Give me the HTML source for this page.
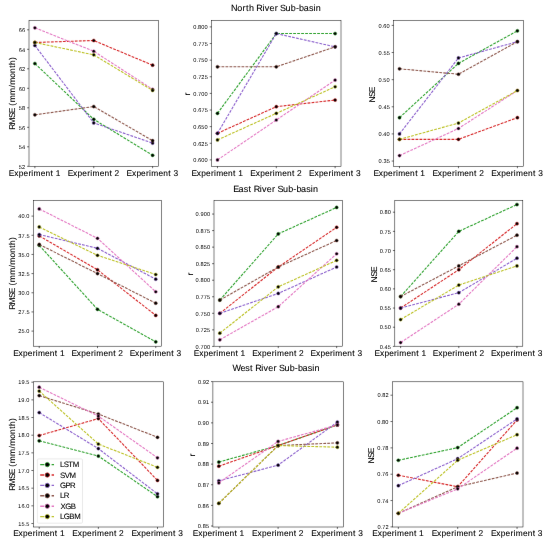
<!DOCTYPE html><html><head><meta charset="utf-8"><style>html,body{margin:0;padding:0;background:#fff;}svg{display:block;will-change:transform;}text{font-family:"Liberation Sans",sans-serif;fill:#000;text-rendering:geometricPrecision;}</style></head><body>
<svg width="550" height="541" viewBox="0 0 550 541">
<rect x="0" y="0" width="550" height="541" fill="#fff"/>
<defs><filter id="bl" x="0" y="0" width="550" height="541" filterUnits="userSpaceOnUse" color-interpolation-filters="sRGB"><feConvolveMatrix order="3" kernelMatrix="0.00193 0.04394 0.00193 0.04394 1.00000 0.04394 0.00193 0.04394 0.00193" divisor="1.18347" edgeMode="duplicate" preserveAlpha="false"/></filter>
<filter id="tb" x="0" y="0" width="550" height="541" filterUnits="userSpaceOnUse" color-interpolation-filters="sRGB"><feConvolveMatrix order="3" kernelMatrix="0.00028 0.01688 0.00028 0.01688 1.00000 0.01688 0.00028 0.01688 0.00028" divisor="1.06866" edgeMode="duplicate" preserveAlpha="false"/></filter>
</defs>
<g filter="url(#bl)">
<polyline points="34.89,63.54 93.75,119.3 152.61,155.28" fill="none" stroke="#2ca02c" stroke-width="1.1" stroke-dasharray="2.8 1.2"/>
<circle cx="34.89" cy="63.54" r="1.6" fill="#000" stroke="#2ca02c" stroke-width="0.45"/>
<circle cx="93.75" cy="119.3" r="1.6" fill="#000" stroke="#2ca02c" stroke-width="0.45"/>
<circle cx="152.61" cy="155.28" r="1.6" fill="#000" stroke="#2ca02c" stroke-width="0.45"/>
<polyline points="34.89,42.47 93.75,40.52 152.61,65.19" fill="none" stroke="#d62728" stroke-width="1.1" stroke-dasharray="2.8 1.2"/>
<circle cx="34.89" cy="42.47" r="1.6" fill="#000" stroke="#d62728" stroke-width="0.45"/>
<circle cx="93.75" cy="40.52" r="1.6" fill="#000" stroke="#d62728" stroke-width="0.45"/>
<circle cx="152.61" cy="65.19" r="1.6" fill="#000" stroke="#d62728" stroke-width="0.45"/>
<polyline points="34.89,45.5 93.75,122.91 152.61,143.09" fill="none" stroke="#8a5fcc" stroke-width="1.1" stroke-dasharray="2.8 1.2"/>
<circle cx="34.89" cy="45.5" r="1.6" fill="#000" stroke="#8a5fcc" stroke-width="0.45"/>
<circle cx="93.75" cy="122.91" r="1.6" fill="#000" stroke="#8a5fcc" stroke-width="0.45"/>
<circle cx="152.61" cy="143.09" r="1.6" fill="#000" stroke="#8a5fcc" stroke-width="0.45"/>
<polyline points="34.89,114.82 93.75,106.53 152.61,140.66" fill="none" stroke="#8c564b" stroke-width="1.1" stroke-dasharray="2.8 1.2"/>
<circle cx="34.89" cy="114.82" r="1.6" fill="#000" stroke="#8c564b" stroke-width="0.45"/>
<circle cx="93.75" cy="106.53" r="1.6" fill="#000" stroke="#8c564b" stroke-width="0.45"/>
<circle cx="152.61" cy="140.66" r="1.6" fill="#000" stroke="#8c564b" stroke-width="0.45"/>
<polyline points="34.89,27.85 93.75,51.25 152.61,89.28" fill="none" stroke="#e377c2" stroke-width="1.1" stroke-dasharray="2.8 1.2"/>
<circle cx="34.89" cy="27.85" r="1.6" fill="#000" stroke="#e377c2" stroke-width="0.45"/>
<circle cx="93.75" cy="51.25" r="1.6" fill="#000" stroke="#e377c2" stroke-width="0.45"/>
<circle cx="152.61" cy="89.28" r="1.6" fill="#000" stroke="#e377c2" stroke-width="0.45"/>
<polyline points="34.89,42.47 93.75,54.86 152.61,90.44" fill="none" stroke="#bcc125" stroke-width="1.1" stroke-dasharray="2.8 1.2"/>
<circle cx="34.89" cy="42.47" r="1.6" fill="#000" stroke="#bcc125" stroke-width="0.45"/>
<circle cx="93.75" cy="54.86" r="1.6" fill="#000" stroke="#bcc125" stroke-width="0.45"/>
<circle cx="152.61" cy="90.44" r="1.6" fill="#000" stroke="#bcc125" stroke-width="0.45"/>
<rect x="29" y="20.5" width="129.5" height="145.8" fill="none" stroke="#000" stroke-width="0.5"/>
<line x1="27.1" y1="166.3" x2="29" y2="166.3" stroke="#000" stroke-width="0.6"/>
<line x1="27.1" y1="146.8" x2="29" y2="146.8" stroke="#000" stroke-width="0.6"/>
<line x1="27.1" y1="127.3" x2="29" y2="127.3" stroke="#000" stroke-width="0.6"/>
<line x1="27.1" y1="107.8" x2="29" y2="107.8" stroke="#000" stroke-width="0.6"/>
<line x1="27.1" y1="88.3" x2="29" y2="88.3" stroke="#000" stroke-width="0.6"/>
<line x1="27.1" y1="68.8" x2="29" y2="68.8" stroke="#000" stroke-width="0.6"/>
<line x1="27.1" y1="49.3" x2="29" y2="49.3" stroke="#000" stroke-width="0.6"/>
<line x1="27.1" y1="29.8" x2="29" y2="29.8" stroke="#000" stroke-width="0.6"/>
<line x1="34.89" y1="166.3" x2="34.89" y2="168.2" stroke="#000" stroke-width="0.6"/>
<line x1="93.75" y1="166.3" x2="93.75" y2="168.2" stroke="#000" stroke-width="0.6"/>
<line x1="152.61" y1="166.3" x2="152.61" y2="168.2" stroke="#000" stroke-width="0.6"/>
<polyline points="217.48,113.35 276.3,33.55 335.12,33.55" fill="none" stroke="#2ca02c" stroke-width="1.1" stroke-dasharray="2.8 1.2"/>
<circle cx="217.48" cy="113.35" r="1.6" fill="#000" stroke="#2ca02c" stroke-width="0.45"/>
<circle cx="276.3" cy="33.55" r="1.6" fill="#000" stroke="#2ca02c" stroke-width="0.45"/>
<circle cx="335.12" cy="33.55" r="1.6" fill="#000" stroke="#2ca02c" stroke-width="0.45"/>
<polyline points="217.48,133.3 276.3,106.7 335.12,100.05" fill="none" stroke="#d62728" stroke-width="1.1" stroke-dasharray="2.8 1.2"/>
<circle cx="217.48" cy="133.3" r="1.6" fill="#000" stroke="#d62728" stroke-width="0.45"/>
<circle cx="276.3" cy="106.7" r="1.6" fill="#000" stroke="#d62728" stroke-width="0.45"/>
<circle cx="335.12" cy="100.05" r="1.6" fill="#000" stroke="#d62728" stroke-width="0.45"/>
<polyline points="217.48,133.3 276.3,33.55 335.12,46.85" fill="none" stroke="#8a5fcc" stroke-width="1.1" stroke-dasharray="2.8 1.2"/>
<circle cx="217.48" cy="133.3" r="1.6" fill="#000" stroke="#8a5fcc" stroke-width="0.45"/>
<circle cx="276.3" cy="33.55" r="1.6" fill="#000" stroke="#8a5fcc" stroke-width="0.45"/>
<circle cx="335.12" cy="46.85" r="1.6" fill="#000" stroke="#8a5fcc" stroke-width="0.45"/>
<polyline points="217.48,66.8 276.3,66.8 335.12,46.85" fill="none" stroke="#8c564b" stroke-width="1.1" stroke-dasharray="2.8 1.2"/>
<circle cx="217.48" cy="66.8" r="1.6" fill="#000" stroke="#8c564b" stroke-width="0.45"/>
<circle cx="276.3" cy="66.8" r="1.6" fill="#000" stroke="#8c564b" stroke-width="0.45"/>
<circle cx="335.12" cy="46.85" r="1.6" fill="#000" stroke="#8c564b" stroke-width="0.45"/>
<polyline points="217.48,159.9 276.3,120 335.12,80.1" fill="none" stroke="#e377c2" stroke-width="1.1" stroke-dasharray="2.8 1.2"/>
<circle cx="217.48" cy="159.9" r="1.6" fill="#000" stroke="#e377c2" stroke-width="0.45"/>
<circle cx="276.3" cy="120" r="1.6" fill="#000" stroke="#e377c2" stroke-width="0.45"/>
<circle cx="335.12" cy="80.1" r="1.6" fill="#000" stroke="#e377c2" stroke-width="0.45"/>
<polyline points="217.48,139.95 276.3,113.35 335.12,86.75" fill="none" stroke="#bcc125" stroke-width="1.1" stroke-dasharray="2.8 1.2"/>
<circle cx="217.48" cy="139.95" r="1.6" fill="#000" stroke="#bcc125" stroke-width="0.45"/>
<circle cx="276.3" cy="113.35" r="1.6" fill="#000" stroke="#bcc125" stroke-width="0.45"/>
<circle cx="335.12" cy="86.75" r="1.6" fill="#000" stroke="#bcc125" stroke-width="0.45"/>
<rect x="211.6" y="20.5" width="129.4" height="145.8" fill="none" stroke="#000" stroke-width="0.5"/>
<line x1="209.7" y1="159.9" x2="211.6" y2="159.9" stroke="#000" stroke-width="0.6"/>
<line x1="209.7" y1="143.27" x2="211.6" y2="143.27" stroke="#000" stroke-width="0.6"/>
<line x1="209.7" y1="126.65" x2="211.6" y2="126.65" stroke="#000" stroke-width="0.6"/>
<line x1="209.7" y1="110.02" x2="211.6" y2="110.02" stroke="#000" stroke-width="0.6"/>
<line x1="209.7" y1="93.4" x2="211.6" y2="93.4" stroke="#000" stroke-width="0.6"/>
<line x1="209.7" y1="76.78" x2="211.6" y2="76.78" stroke="#000" stroke-width="0.6"/>
<line x1="209.7" y1="60.15" x2="211.6" y2="60.15" stroke="#000" stroke-width="0.6"/>
<line x1="209.7" y1="43.53" x2="211.6" y2="43.53" stroke="#000" stroke-width="0.6"/>
<line x1="209.7" y1="26.9" x2="211.6" y2="26.9" stroke="#000" stroke-width="0.6"/>
<line x1="217.48" y1="166.3" x2="217.48" y2="168.2" stroke="#000" stroke-width="0.6"/>
<line x1="276.3" y1="166.3" x2="276.3" y2="168.2" stroke="#000" stroke-width="0.6"/>
<line x1="335.12" y1="166.3" x2="335.12" y2="168.2" stroke="#000" stroke-width="0.6"/>
<polyline points="399.5,117.64 458.45,63.38 517.4,30.83" fill="none" stroke="#2ca02c" stroke-width="1.1" stroke-dasharray="2.8 1.2"/>
<circle cx="399.5" cy="117.64" r="1.6" fill="#000" stroke="#2ca02c" stroke-width="0.45"/>
<circle cx="458.45" cy="63.38" r="1.6" fill="#000" stroke="#2ca02c" stroke-width="0.45"/>
<circle cx="517.4" cy="30.83" r="1.6" fill="#000" stroke="#2ca02c" stroke-width="0.45"/>
<polyline points="399.5,139.35 458.45,139.35 517.4,117.64" fill="none" stroke="#d62728" stroke-width="1.1" stroke-dasharray="2.8 1.2"/>
<circle cx="399.5" cy="139.35" r="1.6" fill="#000" stroke="#d62728" stroke-width="0.45"/>
<circle cx="458.45" cy="139.35" r="1.6" fill="#000" stroke="#d62728" stroke-width="0.45"/>
<circle cx="517.4" cy="117.64" r="1.6" fill="#000" stroke="#d62728" stroke-width="0.45"/>
<polyline points="399.5,133.92 458.45,57.96 517.4,41.68" fill="none" stroke="#8a5fcc" stroke-width="1.1" stroke-dasharray="2.8 1.2"/>
<circle cx="399.5" cy="133.92" r="1.6" fill="#000" stroke="#8a5fcc" stroke-width="0.45"/>
<circle cx="458.45" cy="57.96" r="1.6" fill="#000" stroke="#8a5fcc" stroke-width="0.45"/>
<circle cx="517.4" cy="41.68" r="1.6" fill="#000" stroke="#8a5fcc" stroke-width="0.45"/>
<polyline points="399.5,68.81 458.45,74.23 517.4,41.68" fill="none" stroke="#8c564b" stroke-width="1.1" stroke-dasharray="2.8 1.2"/>
<circle cx="399.5" cy="68.81" r="1.6" fill="#000" stroke="#8c564b" stroke-width="0.45"/>
<circle cx="458.45" cy="74.23" r="1.6" fill="#000" stroke="#8c564b" stroke-width="0.45"/>
<circle cx="517.4" cy="41.68" r="1.6" fill="#000" stroke="#8c564b" stroke-width="0.45"/>
<polyline points="399.5,155.62 458.45,128.49 517.4,90.51" fill="none" stroke="#e377c2" stroke-width="1.1" stroke-dasharray="2.8 1.2"/>
<circle cx="399.5" cy="155.62" r="1.6" fill="#000" stroke="#e377c2" stroke-width="0.45"/>
<circle cx="458.45" cy="128.49" r="1.6" fill="#000" stroke="#e377c2" stroke-width="0.45"/>
<circle cx="517.4" cy="90.51" r="1.6" fill="#000" stroke="#e377c2" stroke-width="0.45"/>
<polyline points="399.5,139.35 458.45,123.07 517.4,90.51" fill="none" stroke="#bcc125" stroke-width="1.1" stroke-dasharray="2.8 1.2"/>
<circle cx="399.5" cy="139.35" r="1.6" fill="#000" stroke="#bcc125" stroke-width="0.45"/>
<circle cx="458.45" cy="123.07" r="1.6" fill="#000" stroke="#bcc125" stroke-width="0.45"/>
<circle cx="517.4" cy="90.51" r="1.6" fill="#000" stroke="#bcc125" stroke-width="0.45"/>
<rect x="393.6" y="20.5" width="129.7" height="145.8" fill="none" stroke="#000" stroke-width="0.5"/>
<line x1="391.7" y1="161.05" x2="393.6" y2="161.05" stroke="#000" stroke-width="0.6"/>
<line x1="391.7" y1="133.92" x2="393.6" y2="133.92" stroke="#000" stroke-width="0.6"/>
<line x1="391.7" y1="106.79" x2="393.6" y2="106.79" stroke="#000" stroke-width="0.6"/>
<line x1="391.7" y1="79.66" x2="393.6" y2="79.66" stroke="#000" stroke-width="0.6"/>
<line x1="391.7" y1="52.53" x2="393.6" y2="52.53" stroke="#000" stroke-width="0.6"/>
<line x1="391.7" y1="25.4" x2="393.6" y2="25.4" stroke="#000" stroke-width="0.6"/>
<line x1="399.5" y1="166.3" x2="399.5" y2="168.2" stroke="#000" stroke-width="0.6"/>
<line x1="458.45" y1="166.3" x2="458.45" y2="168.2" stroke="#000" stroke-width="0.6"/>
<line x1="517.4" y1="166.3" x2="517.4" y2="168.2" stroke="#000" stroke-width="0.6"/>
<polyline points="39.23,245.31 97.5,309.33 155.77,341.83" fill="none" stroke="#2ca02c" stroke-width="1.1" stroke-dasharray="2.8 1.2"/>
<circle cx="39.23" cy="245.31" r="1.6" fill="#000" stroke="#2ca02c" stroke-width="0.45"/>
<circle cx="97.5" cy="309.33" r="1.6" fill="#000" stroke="#2ca02c" stroke-width="0.45"/>
<circle cx="155.77" cy="341.83" r="1.6" fill="#000" stroke="#2ca02c" stroke-width="0.45"/>
<polyline points="39.23,235.88 97.5,269.77 155.77,315.38" fill="none" stroke="#d62728" stroke-width="1.1" stroke-dasharray="2.8 1.2"/>
<circle cx="39.23" cy="235.88" r="1.6" fill="#000" stroke="#d62728" stroke-width="0.45"/>
<circle cx="97.5" cy="269.77" r="1.6" fill="#000" stroke="#d62728" stroke-width="0.45"/>
<circle cx="155.77" cy="315.38" r="1.6" fill="#000" stroke="#d62728" stroke-width="0.45"/>
<polyline points="39.23,234.5 97.5,248.3 155.77,279.2" fill="none" stroke="#8a5fcc" stroke-width="1.1" stroke-dasharray="2.8 1.2"/>
<circle cx="39.23" cy="234.5" r="1.6" fill="#000" stroke="#8a5fcc" stroke-width="0.45"/>
<circle cx="97.5" cy="248.3" r="1.6" fill="#000" stroke="#8a5fcc" stroke-width="0.45"/>
<circle cx="155.77" cy="279.2" r="1.6" fill="#000" stroke="#8a5fcc" stroke-width="0.45"/>
<polyline points="39.23,244.47 97.5,273.6 155.77,303.19" fill="none" stroke="#8c564b" stroke-width="1.1" stroke-dasharray="2.8 1.2"/>
<circle cx="39.23" cy="244.47" r="1.6" fill="#000" stroke="#8c564b" stroke-width="0.45"/>
<circle cx="97.5" cy="273.6" r="1.6" fill="#000" stroke="#8c564b" stroke-width="0.45"/>
<circle cx="155.77" cy="303.19" r="1.6" fill="#000" stroke="#8c564b" stroke-width="0.45"/>
<polyline points="39.23,208.89 97.5,238.33 155.77,291.77" fill="none" stroke="#e377c2" stroke-width="1.1" stroke-dasharray="2.8 1.2"/>
<circle cx="39.23" cy="208.89" r="1.6" fill="#000" stroke="#e377c2" stroke-width="0.45"/>
<circle cx="97.5" cy="238.33" r="1.6" fill="#000" stroke="#e377c2" stroke-width="0.45"/>
<circle cx="155.77" cy="291.77" r="1.6" fill="#000" stroke="#e377c2" stroke-width="0.45"/>
<polyline points="39.23,226.91 97.5,255.35 155.77,274.52" fill="none" stroke="#bcc125" stroke-width="1.1" stroke-dasharray="2.8 1.2"/>
<circle cx="39.23" cy="226.91" r="1.6" fill="#000" stroke="#bcc125" stroke-width="0.45"/>
<circle cx="97.5" cy="255.35" r="1.6" fill="#000" stroke="#bcc125" stroke-width="0.45"/>
<circle cx="155.77" cy="274.52" r="1.6" fill="#000" stroke="#bcc125" stroke-width="0.45"/>
<rect x="33.4" y="200.4" width="128.2" height="145.8" fill="none" stroke="#000" stroke-width="0.5"/>
<line x1="31.5" y1="331.1" x2="33.4" y2="331.1" stroke="#000" stroke-width="0.6"/>
<line x1="31.5" y1="311.93" x2="33.4" y2="311.93" stroke="#000" stroke-width="0.6"/>
<line x1="31.5" y1="292.77" x2="33.4" y2="292.77" stroke="#000" stroke-width="0.6"/>
<line x1="31.5" y1="273.6" x2="33.4" y2="273.6" stroke="#000" stroke-width="0.6"/>
<line x1="31.5" y1="254.43" x2="33.4" y2="254.43" stroke="#000" stroke-width="0.6"/>
<line x1="31.5" y1="235.27" x2="33.4" y2="235.27" stroke="#000" stroke-width="0.6"/>
<line x1="31.5" y1="216.1" x2="33.4" y2="216.1" stroke="#000" stroke-width="0.6"/>
<line x1="39.23" y1="346.2" x2="39.23" y2="348.1" stroke="#000" stroke-width="0.6"/>
<line x1="97.5" y1="346.2" x2="97.5" y2="348.1" stroke="#000" stroke-width="0.6"/>
<line x1="155.77" y1="346.2" x2="155.77" y2="348.1" stroke="#000" stroke-width="0.6"/>
<polyline points="219.84,300.08 278.25,233.9 336.66,207.43" fill="none" stroke="#2ca02c" stroke-width="1.1" stroke-dasharray="2.8 1.2"/>
<circle cx="219.84" cy="300.08" r="1.6" fill="#000" stroke="#2ca02c" stroke-width="0.45"/>
<circle cx="278.25" cy="233.9" r="1.6" fill="#000" stroke="#2ca02c" stroke-width="0.45"/>
<circle cx="336.66" cy="207.43" r="1.6" fill="#000" stroke="#2ca02c" stroke-width="0.45"/>
<polyline points="219.84,313.31 278.25,266.99 336.66,227.29" fill="none" stroke="#d62728" stroke-width="1.1" stroke-dasharray="2.8 1.2"/>
<circle cx="219.84" cy="313.31" r="1.6" fill="#000" stroke="#d62728" stroke-width="0.45"/>
<circle cx="278.25" cy="266.99" r="1.6" fill="#000" stroke="#d62728" stroke-width="0.45"/>
<circle cx="336.66" cy="227.29" r="1.6" fill="#000" stroke="#d62728" stroke-width="0.45"/>
<polyline points="219.84,313.31 278.25,293.46 336.66,266.99" fill="none" stroke="#8a5fcc" stroke-width="1.1" stroke-dasharray="2.8 1.2"/>
<circle cx="219.84" cy="313.31" r="1.6" fill="#000" stroke="#8a5fcc" stroke-width="0.45"/>
<circle cx="278.25" cy="293.46" r="1.6" fill="#000" stroke="#8a5fcc" stroke-width="0.45"/>
<circle cx="336.66" cy="266.99" r="1.6" fill="#000" stroke="#8a5fcc" stroke-width="0.45"/>
<polyline points="219.84,300.08 278.25,266.99 336.66,240.52" fill="none" stroke="#8c564b" stroke-width="1.1" stroke-dasharray="2.8 1.2"/>
<circle cx="219.84" cy="300.08" r="1.6" fill="#000" stroke="#8c564b" stroke-width="0.45"/>
<circle cx="278.25" cy="266.99" r="1.6" fill="#000" stroke="#8c564b" stroke-width="0.45"/>
<circle cx="336.66" cy="240.52" r="1.6" fill="#000" stroke="#8c564b" stroke-width="0.45"/>
<polyline points="219.84,339.78 278.25,306.69 336.66,253.76" fill="none" stroke="#e377c2" stroke-width="1.1" stroke-dasharray="2.8 1.2"/>
<circle cx="219.84" cy="339.78" r="1.6" fill="#000" stroke="#e377c2" stroke-width="0.45"/>
<circle cx="278.25" cy="306.69" r="1.6" fill="#000" stroke="#e377c2" stroke-width="0.45"/>
<circle cx="336.66" cy="253.76" r="1.6" fill="#000" stroke="#e377c2" stroke-width="0.45"/>
<polyline points="219.84,333.16 278.25,286.84 336.66,260.37" fill="none" stroke="#bcc125" stroke-width="1.1" stroke-dasharray="2.8 1.2"/>
<circle cx="219.84" cy="333.16" r="1.6" fill="#000" stroke="#bcc125" stroke-width="0.45"/>
<circle cx="278.25" cy="286.84" r="1.6" fill="#000" stroke="#bcc125" stroke-width="0.45"/>
<circle cx="336.66" cy="260.37" r="1.6" fill="#000" stroke="#bcc125" stroke-width="0.45"/>
<rect x="214" y="200.4" width="128.5" height="145.8" fill="none" stroke="#000" stroke-width="0.5"/>
<line x1="212.1" y1="346.4" x2="214" y2="346.4" stroke="#000" stroke-width="0.6"/>
<line x1="212.1" y1="329.86" x2="214" y2="329.86" stroke="#000" stroke-width="0.6"/>
<line x1="212.1" y1="313.31" x2="214" y2="313.31" stroke="#000" stroke-width="0.6"/>
<line x1="212.1" y1="296.77" x2="214" y2="296.77" stroke="#000" stroke-width="0.6"/>
<line x1="212.1" y1="280.23" x2="214" y2="280.23" stroke="#000" stroke-width="0.6"/>
<line x1="212.1" y1="263.68" x2="214" y2="263.68" stroke="#000" stroke-width="0.6"/>
<line x1="212.1" y1="247.14" x2="214" y2="247.14" stroke="#000" stroke-width="0.6"/>
<line x1="212.1" y1="230.59" x2="214" y2="230.59" stroke="#000" stroke-width="0.6"/>
<line x1="212.1" y1="214.05" x2="214" y2="214.05" stroke="#000" stroke-width="0.6"/>
<line x1="219.84" y1="346.2" x2="219.84" y2="348.1" stroke="#000" stroke-width="0.6"/>
<line x1="278.25" y1="346.2" x2="278.25" y2="348.1" stroke="#000" stroke-width="0.6"/>
<line x1="336.66" y1="346.2" x2="336.66" y2="348.1" stroke="#000" stroke-width="0.6"/>
<polyline points="400.62,296.55 458.8,231.37 516.98,204.53" fill="none" stroke="#2ca02c" stroke-width="1.1" stroke-dasharray="2.8 1.2"/>
<circle cx="400.62" cy="296.55" r="1.6" fill="#000" stroke="#2ca02c" stroke-width="0.45"/>
<circle cx="458.8" cy="231.37" r="1.6" fill="#000" stroke="#2ca02c" stroke-width="0.45"/>
<circle cx="516.98" cy="204.53" r="1.6" fill="#000" stroke="#2ca02c" stroke-width="0.45"/>
<polyline points="400.62,308.06 458.8,269.71 516.98,223.7" fill="none" stroke="#d62728" stroke-width="1.1" stroke-dasharray="2.8 1.2"/>
<circle cx="400.62" cy="308.06" r="1.6" fill="#000" stroke="#d62728" stroke-width="0.45"/>
<circle cx="458.8" cy="269.71" r="1.6" fill="#000" stroke="#d62728" stroke-width="0.45"/>
<circle cx="516.98" cy="223.7" r="1.6" fill="#000" stroke="#d62728" stroke-width="0.45"/>
<polyline points="400.62,308.06 458.8,292.72 516.98,258.21" fill="none" stroke="#8a5fcc" stroke-width="1.1" stroke-dasharray="2.8 1.2"/>
<circle cx="400.62" cy="308.06" r="1.6" fill="#000" stroke="#8a5fcc" stroke-width="0.45"/>
<circle cx="458.8" cy="292.72" r="1.6" fill="#000" stroke="#8a5fcc" stroke-width="0.45"/>
<circle cx="516.98" cy="258.21" r="1.6" fill="#000" stroke="#8a5fcc" stroke-width="0.45"/>
<polyline points="400.62,296.55 458.8,265.88 516.98,235.21" fill="none" stroke="#8c564b" stroke-width="1.1" stroke-dasharray="2.8 1.2"/>
<circle cx="400.62" cy="296.55" r="1.6" fill="#000" stroke="#8c564b" stroke-width="0.45"/>
<circle cx="458.8" cy="265.88" r="1.6" fill="#000" stroke="#8c564b" stroke-width="0.45"/>
<circle cx="516.98" cy="235.21" r="1.6" fill="#000" stroke="#8c564b" stroke-width="0.45"/>
<polyline points="400.62,342.57 458.8,304.22 516.98,246.71" fill="none" stroke="#e377c2" stroke-width="1.1" stroke-dasharray="2.8 1.2"/>
<circle cx="400.62" cy="342.57" r="1.6" fill="#000" stroke="#e377c2" stroke-width="0.45"/>
<circle cx="458.8" cy="304.22" r="1.6" fill="#000" stroke="#e377c2" stroke-width="0.45"/>
<circle cx="516.98" cy="246.71" r="1.6" fill="#000" stroke="#e377c2" stroke-width="0.45"/>
<polyline points="400.62,319.56 458.8,285.05 516.98,265.88" fill="none" stroke="#bcc125" stroke-width="1.1" stroke-dasharray="2.8 1.2"/>
<circle cx="400.62" cy="319.56" r="1.6" fill="#000" stroke="#bcc125" stroke-width="0.45"/>
<circle cx="458.8" cy="285.05" r="1.6" fill="#000" stroke="#bcc125" stroke-width="0.45"/>
<circle cx="516.98" cy="265.88" r="1.6" fill="#000" stroke="#bcc125" stroke-width="0.45"/>
<rect x="394.8" y="200.4" width="128" height="145.8" fill="none" stroke="#000" stroke-width="0.5"/>
<line x1="392.9" y1="346.4" x2="394.8" y2="346.4" stroke="#000" stroke-width="0.6"/>
<line x1="392.9" y1="327.23" x2="394.8" y2="327.23" stroke="#000" stroke-width="0.6"/>
<line x1="392.9" y1="308.06" x2="394.8" y2="308.06" stroke="#000" stroke-width="0.6"/>
<line x1="392.9" y1="288.89" x2="394.8" y2="288.89" stroke="#000" stroke-width="0.6"/>
<line x1="392.9" y1="269.71" x2="394.8" y2="269.71" stroke="#000" stroke-width="0.6"/>
<line x1="392.9" y1="250.54" x2="394.8" y2="250.54" stroke="#000" stroke-width="0.6"/>
<line x1="392.9" y1="231.37" x2="394.8" y2="231.37" stroke="#000" stroke-width="0.6"/>
<line x1="392.9" y1="212.2" x2="394.8" y2="212.2" stroke="#000" stroke-width="0.6"/>
<line x1="400.62" y1="346.2" x2="400.62" y2="348.1" stroke="#000" stroke-width="0.6"/>
<line x1="458.8" y1="346.2" x2="458.8" y2="348.1" stroke="#000" stroke-width="0.6"/>
<line x1="516.98" y1="346.2" x2="516.98" y2="348.1" stroke="#000" stroke-width="0.6"/>
<polyline points="39.21,440.84 98.35,456.03 157.49,496.65" fill="none" stroke="#2ca02c" stroke-width="1.1" stroke-dasharray="2.8 1.2"/>
<circle cx="39.21" cy="440.84" r="1.6" fill="#000" stroke="#2ca02c" stroke-width="0.45"/>
<circle cx="98.35" cy="456.03" r="1.6" fill="#000" stroke="#2ca02c" stroke-width="0.45"/>
<circle cx="157.49" cy="496.65" r="1.6" fill="#000" stroke="#2ca02c" stroke-width="0.45"/>
<polyline points="39.21,435.54 98.35,418.58 157.49,480.4" fill="none" stroke="#d62728" stroke-width="1.1" stroke-dasharray="2.8 1.2"/>
<circle cx="39.21" cy="435.54" r="1.6" fill="#000" stroke="#d62728" stroke-width="0.45"/>
<circle cx="98.35" cy="418.58" r="1.6" fill="#000" stroke="#d62728" stroke-width="0.45"/>
<circle cx="157.49" cy="480.4" r="1.6" fill="#000" stroke="#d62728" stroke-width="0.45"/>
<polyline points="39.21,412.58 98.35,448.61 157.49,493.83" fill="none" stroke="#8a5fcc" stroke-width="1.1" stroke-dasharray="2.8 1.2"/>
<circle cx="39.21" cy="412.58" r="1.6" fill="#000" stroke="#8a5fcc" stroke-width="0.45"/>
<circle cx="98.35" cy="448.61" r="1.6" fill="#000" stroke="#8a5fcc" stroke-width="0.45"/>
<circle cx="157.49" cy="493.83" r="1.6" fill="#000" stroke="#8a5fcc" stroke-width="0.45"/>
<polyline points="39.21,395.62 98.35,413.99 157.49,437.31" fill="none" stroke="#8c564b" stroke-width="1.1" stroke-dasharray="2.8 1.2"/>
<circle cx="39.21" cy="395.62" r="1.6" fill="#000" stroke="#8c564b" stroke-width="0.45"/>
<circle cx="98.35" cy="413.99" r="1.6" fill="#000" stroke="#8c564b" stroke-width="0.45"/>
<circle cx="157.49" cy="437.31" r="1.6" fill="#000" stroke="#8c564b" stroke-width="0.45"/>
<polyline points="39.21,387.15 98.35,416.11 157.49,457.8" fill="none" stroke="#e377c2" stroke-width="1.1" stroke-dasharray="2.8 1.2"/>
<circle cx="39.21" cy="387.15" r="1.6" fill="#000" stroke="#e377c2" stroke-width="0.45"/>
<circle cx="98.35" cy="416.11" r="1.6" fill="#000" stroke="#e377c2" stroke-width="0.45"/>
<circle cx="157.49" cy="457.8" r="1.6" fill="#000" stroke="#e377c2" stroke-width="0.45"/>
<polyline points="39.21,391.03 98.35,444.02 157.49,467.33" fill="none" stroke="#bcc125" stroke-width="1.1" stroke-dasharray="2.8 1.2"/>
<circle cx="39.21" cy="391.03" r="1.6" fill="#000" stroke="#bcc125" stroke-width="0.45"/>
<circle cx="98.35" cy="444.02" r="1.6" fill="#000" stroke="#bcc125" stroke-width="0.45"/>
<circle cx="157.49" cy="467.33" r="1.6" fill="#000" stroke="#bcc125" stroke-width="0.45"/>
<rect x="33.3" y="381.8" width="130.1" height="145.2" fill="none" stroke="#000" stroke-width="0.5"/>
<line x1="31.4" y1="523.5" x2="33.3" y2="523.5" stroke="#000" stroke-width="0.6"/>
<line x1="31.4" y1="505.84" x2="33.3" y2="505.84" stroke="#000" stroke-width="0.6"/>
<line x1="31.4" y1="488.18" x2="33.3" y2="488.18" stroke="#000" stroke-width="0.6"/>
<line x1="31.4" y1="470.51" x2="33.3" y2="470.51" stroke="#000" stroke-width="0.6"/>
<line x1="31.4" y1="452.85" x2="33.3" y2="452.85" stroke="#000" stroke-width="0.6"/>
<line x1="31.4" y1="435.19" x2="33.3" y2="435.19" stroke="#000" stroke-width="0.6"/>
<line x1="31.4" y1="417.52" x2="33.3" y2="417.52" stroke="#000" stroke-width="0.6"/>
<line x1="31.4" y1="399.86" x2="33.3" y2="399.86" stroke="#000" stroke-width="0.6"/>
<line x1="31.4" y1="382.2" x2="33.3" y2="382.2" stroke="#000" stroke-width="0.6"/>
<line x1="39.21" y1="527" x2="39.21" y2="528.9" stroke="#000" stroke-width="0.6"/>
<line x1="98.35" y1="527" x2="98.35" y2="528.9" stroke="#000" stroke-width="0.6"/>
<line x1="157.49" y1="527" x2="157.49" y2="528.9" stroke="#000" stroke-width="0.6"/>
<rect x="37.4" y="458.9" width="45.1" height="64.3" rx="1.2" ry="1.2" fill="#fff" fill-opacity="0.8" stroke="#dcdcdc" stroke-width="0.6"/>
<line x1="40.2" y1="464.6" x2="54.0" y2="464.6" stroke="#2ca02c" stroke-width="1.4" stroke-dasharray="4.0 1.7"/>
<circle cx="47.3" cy="464.6" r="2.2" fill="#000" stroke="#2ca02c" stroke-width="0.7"/>
<line x1="40.2" y1="475.0" x2="54.0" y2="475.0" stroke="#d62728" stroke-width="1.4" stroke-dasharray="4.0 1.7"/>
<circle cx="47.3" cy="475.0" r="2.2" fill="#000" stroke="#d62728" stroke-width="0.7"/>
<line x1="40.2" y1="485.4" x2="54.0" y2="485.4" stroke="#8a5fcc" stroke-width="1.4" stroke-dasharray="4.0 1.7"/>
<circle cx="47.3" cy="485.4" r="2.2" fill="#000" stroke="#8a5fcc" stroke-width="0.7"/>
<line x1="40.2" y1="495.8" x2="54.0" y2="495.8" stroke="#8c564b" stroke-width="1.4" stroke-dasharray="4.0 1.7"/>
<circle cx="47.3" cy="495.8" r="2.2" fill="#000" stroke="#8c564b" stroke-width="0.7"/>
<line x1="40.2" y1="506.2" x2="54.0" y2="506.2" stroke="#e377c2" stroke-width="1.4" stroke-dasharray="4.0 1.7"/>
<circle cx="47.3" cy="506.2" r="2.2" fill="#000" stroke="#e377c2" stroke-width="0.7"/>
<line x1="40.2" y1="516.6" x2="54.0" y2="516.6" stroke="#bcc125" stroke-width="1.4" stroke-dasharray="4.0 1.7"/>
<circle cx="47.3" cy="516.6" r="2.2" fill="#000" stroke="#bcc125" stroke-width="0.7"/>
<polyline points="218.83,462.05 278.1,445.55 337.37,424.92" fill="none" stroke="#2ca02c" stroke-width="1.1" stroke-dasharray="2.8 1.2"/>
<circle cx="218.83" cy="462.05" r="1.6" fill="#000" stroke="#2ca02c" stroke-width="0.45"/>
<circle cx="278.1" cy="445.55" r="1.6" fill="#000" stroke="#2ca02c" stroke-width="0.45"/>
<circle cx="337.37" cy="424.92" r="1.6" fill="#000" stroke="#2ca02c" stroke-width="0.45"/>
<polyline points="218.83,466.18 278.1,445.55 337.37,424.92" fill="none" stroke="#d62728" stroke-width="1.1" stroke-dasharray="2.8 1.2"/>
<circle cx="218.83" cy="466.18" r="1.6" fill="#000" stroke="#d62728" stroke-width="0.45"/>
<circle cx="278.1" cy="445.55" r="1.6" fill="#000" stroke="#d62728" stroke-width="0.45"/>
<circle cx="337.37" cy="424.92" r="1.6" fill="#000" stroke="#d62728" stroke-width="0.45"/>
<polyline points="218.83,480.82 278.1,465.15 337.37,422.03" fill="none" stroke="#8a5fcc" stroke-width="1.1" stroke-dasharray="2.8 1.2"/>
<circle cx="218.83" cy="480.82" r="1.6" fill="#000" stroke="#8a5fcc" stroke-width="0.45"/>
<circle cx="278.1" cy="465.15" r="1.6" fill="#000" stroke="#8a5fcc" stroke-width="0.45"/>
<circle cx="337.37" cy="422.03" r="1.6" fill="#000" stroke="#8a5fcc" stroke-width="0.45"/>
<polyline points="218.83,503.31 278.1,445.55 337.37,442.87" fill="none" stroke="#8c564b" stroke-width="1.1" stroke-dasharray="2.8 1.2"/>
<circle cx="218.83" cy="503.31" r="1.6" fill="#000" stroke="#8c564b" stroke-width="0.45"/>
<circle cx="278.1" cy="445.55" r="1.6" fill="#000" stroke="#8c564b" stroke-width="0.45"/>
<circle cx="337.37" cy="442.87" r="1.6" fill="#000" stroke="#8c564b" stroke-width="0.45"/>
<polyline points="218.83,482.89 278.1,441.42 337.37,424.92" fill="none" stroke="#e377c2" stroke-width="1.1" stroke-dasharray="2.8 1.2"/>
<circle cx="218.83" cy="482.89" r="1.6" fill="#000" stroke="#e377c2" stroke-width="0.45"/>
<circle cx="278.1" cy="441.42" r="1.6" fill="#000" stroke="#e377c2" stroke-width="0.45"/>
<circle cx="337.37" cy="424.92" r="1.6" fill="#000" stroke="#e377c2" stroke-width="0.45"/>
<polyline points="218.83,503.31 278.1,445.55 337.37,447.2" fill="none" stroke="#bcc125" stroke-width="1.1" stroke-dasharray="2.8 1.2"/>
<circle cx="218.83" cy="503.31" r="1.6" fill="#000" stroke="#bcc125" stroke-width="0.45"/>
<circle cx="278.1" cy="445.55" r="1.6" fill="#000" stroke="#bcc125" stroke-width="0.45"/>
<circle cx="337.37" cy="447.2" r="1.6" fill="#000" stroke="#bcc125" stroke-width="0.45"/>
<rect x="212.9" y="381.8" width="130.4" height="145.2" fill="none" stroke="#000" stroke-width="0.5"/>
<line x1="211" y1="526" x2="212.9" y2="526" stroke="#000" stroke-width="0.6"/>
<line x1="211" y1="505.37" x2="212.9" y2="505.37" stroke="#000" stroke-width="0.6"/>
<line x1="211" y1="484.74" x2="212.9" y2="484.74" stroke="#000" stroke-width="0.6"/>
<line x1="211" y1="464.11" x2="212.9" y2="464.11" stroke="#000" stroke-width="0.6"/>
<line x1="211" y1="443.49" x2="212.9" y2="443.49" stroke="#000" stroke-width="0.6"/>
<line x1="211" y1="422.86" x2="212.9" y2="422.86" stroke="#000" stroke-width="0.6"/>
<line x1="211" y1="402.23" x2="212.9" y2="402.23" stroke="#000" stroke-width="0.6"/>
<line x1="211" y1="381.6" x2="212.9" y2="381.6" stroke="#000" stroke-width="0.6"/>
<line x1="218.83" y1="527" x2="218.83" y2="528.9" stroke="#000" stroke-width="0.6"/>
<line x1="278.1" y1="527" x2="278.1" y2="528.9" stroke="#000" stroke-width="0.6"/>
<line x1="337.37" y1="527" x2="337.37" y2="528.9" stroke="#000" stroke-width="0.6"/>
<polyline points="398.34,460.26 457.7,447.62 517.06,407.71" fill="none" stroke="#2ca02c" stroke-width="1.1" stroke-dasharray="2.8 1.2"/>
<circle cx="398.34" cy="460.26" r="1.6" fill="#000" stroke="#2ca02c" stroke-width="0.45"/>
<circle cx="457.7" cy="447.62" r="1.6" fill="#000" stroke="#2ca02c" stroke-width="0.45"/>
<circle cx="517.06" cy="407.71" r="1.6" fill="#000" stroke="#2ca02c" stroke-width="0.45"/>
<polyline points="398.34,475.27 457.7,486.73 517.06,419.96" fill="none" stroke="#d62728" stroke-width="1.1" stroke-dasharray="2.8 1.2"/>
<circle cx="398.34" cy="475.27" r="1.6" fill="#000" stroke="#d62728" stroke-width="0.45"/>
<circle cx="457.7" cy="486.73" r="1.6" fill="#000" stroke="#d62728" stroke-width="0.45"/>
<circle cx="517.06" cy="419.96" r="1.6" fill="#000" stroke="#d62728" stroke-width="0.45"/>
<polyline points="398.34,485.68 457.7,458.68 517.06,418.91" fill="none" stroke="#8a5fcc" stroke-width="1.1" stroke-dasharray="2.8 1.2"/>
<circle cx="398.34" cy="485.68" r="1.6" fill="#000" stroke="#8a5fcc" stroke-width="0.45"/>
<circle cx="457.7" cy="458.68" r="1.6" fill="#000" stroke="#8a5fcc" stroke-width="0.45"/>
<circle cx="517.06" cy="418.91" r="1.6" fill="#000" stroke="#8a5fcc" stroke-width="0.45"/>
<polyline points="398.34,513.33 457.7,486.73 517.06,473.03" fill="none" stroke="#8c564b" stroke-width="1.1" stroke-dasharray="2.8 1.2"/>
<circle cx="398.34" cy="513.33" r="1.6" fill="#000" stroke="#8c564b" stroke-width="0.45"/>
<circle cx="457.7" cy="486.73" r="1.6" fill="#000" stroke="#8c564b" stroke-width="0.45"/>
<circle cx="517.06" cy="473.03" r="1.6" fill="#000" stroke="#8c564b" stroke-width="0.45"/>
<polyline points="398.34,513.33 457.7,488.84 517.06,448.14" fill="none" stroke="#e377c2" stroke-width="1.1" stroke-dasharray="2.8 1.2"/>
<circle cx="398.34" cy="513.33" r="1.6" fill="#000" stroke="#e377c2" stroke-width="0.45"/>
<circle cx="457.7" cy="488.84" r="1.6" fill="#000" stroke="#e377c2" stroke-width="0.45"/>
<circle cx="517.06" cy="448.14" r="1.6" fill="#000" stroke="#e377c2" stroke-width="0.45"/>
<polyline points="398.34,513.33 457.7,460.26 517.06,434.71" fill="none" stroke="#bcc125" stroke-width="1.1" stroke-dasharray="2.8 1.2"/>
<circle cx="398.34" cy="513.33" r="1.6" fill="#000" stroke="#bcc125" stroke-width="0.45"/>
<circle cx="457.7" cy="460.26" r="1.6" fill="#000" stroke="#bcc125" stroke-width="0.45"/>
<circle cx="517.06" cy="434.71" r="1.6" fill="#000" stroke="#bcc125" stroke-width="0.45"/>
<rect x="392.4" y="381.8" width="130.6" height="145.2" fill="none" stroke="#000" stroke-width="0.5"/>
<line x1="390.5" y1="526.9" x2="392.4" y2="526.9" stroke="#000" stroke-width="0.6"/>
<line x1="390.5" y1="500.56" x2="392.4" y2="500.56" stroke="#000" stroke-width="0.6"/>
<line x1="390.5" y1="474.22" x2="392.4" y2="474.22" stroke="#000" stroke-width="0.6"/>
<line x1="390.5" y1="447.88" x2="392.4" y2="447.88" stroke="#000" stroke-width="0.6"/>
<line x1="390.5" y1="421.54" x2="392.4" y2="421.54" stroke="#000" stroke-width="0.6"/>
<line x1="390.5" y1="395.2" x2="392.4" y2="395.2" stroke="#000" stroke-width="0.6"/>
<line x1="398.34" y1="527" x2="398.34" y2="528.9" stroke="#000" stroke-width="0.6"/>
<line x1="457.7" y1="527" x2="457.7" y2="528.9" stroke="#000" stroke-width="0.6"/>
<line x1="517.06" y1="527" x2="517.06" y2="528.9" stroke="#000" stroke-width="0.6"/>
</g>
<g stroke="#000" stroke-width="0.15" stroke-opacity="0.6" filter="url(#tb)">
<text x="230.95 237.26 242.58 245.94 248.91 248.91 256.31 262.41 264.71 269.4 274.73 274.73 279.99 285.61 290.86 295.88 298.99 303.73 308.99 313.44 315.68" y="11.2" font-size="8.99" fill="#000">North River Sub-basin</text>
<text x="233.3 238.6 243.86 248.51 248.51 253.7 259.8 262.1 266.79 272.12 272.12 277.38 283 288.25 293.27 296.38 301.12 306.37 310.83 313.07" y="191.8" font-size="8.99" fill="#000">East River Sub-basin</text>
<text x="232.59 240.42 245.36 250 250 255.19 261.29 263.59 268.29 273.61 273.61 278.88 284.5 289.74 294.77 297.88 302.61 307.87 312.33 314.56" y="371.3" font-size="8.99" fill="#000">West River Sub-basin</text>
<text x="18.86 22.06" y="168.54" font-size="5.61" fill="#000" stroke="none">52</text>
<text x="18.64 21.9" y="149.04" font-size="5.61" fill="#000" stroke="none">54</text>
<text x="18.67 21.94" y="129.54" font-size="5.61" fill="#000" stroke="none">56</text>
<text x="18.7 21.96" y="110.04" font-size="5.61" fill="#000" stroke="none">58</text>
<text x="18.71 21.96" y="90.54" font-size="5.61" fill="#000" stroke="none">60</text>
<text x="18.88 22.06" y="71.04" font-size="5.61" fill="#000" stroke="none">62</text>
<text x="18.66 21.9" y="51.54" font-size="5.61" fill="#000" stroke="none">64</text>
<text x="18.69 21.94" y="32.04" font-size="5.61" fill="#000" stroke="none">66</text>
<text x="8.86 14.23 18.71 23.44 28.39 31.34 33.56 40.75 45.5 50.52 50.52 55.66" y="175.6" font-size="8.36" fill="#000">Experiment 1</text>
<text x="67.76 73.12 77.61 82.33 87.28 90.23 92.45 99.64 104.39 109.41 109.41 114.49" y="175.6" font-size="8.36" fill="#000">Experiment 2</text>
<text x="126.54 131.91 136.39 141.12 146.07 149.02 151.24 158.43 163.18 168.2 168.2 173.39" y="175.6" font-size="8.36" fill="#000">Experiment 3</text>
<text transform="translate(15.05,93.4) rotate(-90)" x="-36.47 -31.09 -24.63 -19.86 -19.86 -12.29 -8.94 -1.49 5.84 8.54 15.75 20.53 25.59 28.37 33.43" y="0" font-size="8.42" fill="#000">RMSE (mm/month)</text>
<text x="193.2 196.41 198.06 201.31 204.56" y="162.14" font-size="5.61" fill="#000" stroke="none">0.600</text>
<text x="193.31 196.52 198.17 201.35 204.64" y="145.52" font-size="5.61" fill="#000" stroke="none">0.625</text>
<text x="193.2 196.41 198.06 201.29 204.56" y="128.89" font-size="5.61" fill="#000" stroke="none">0.650</text>
<text x="193.31 196.52 198.17 201.41 204.64" y="112.27" font-size="5.61" fill="#000" stroke="none">0.675</text>
<text x="193.2 196.41 198.06 201.31 204.56" y="95.64" font-size="5.61" fill="#000" stroke="none">0.700</text>
<text x="193.31 196.52 198.16 201.35 204.64" y="79.02" font-size="5.61" fill="#000" stroke="none">0.725</text>
<text x="193.2 196.41 198.06 201.29 204.56" y="62.39" font-size="5.61" fill="#000" stroke="none">0.750</text>
<text x="193.31 196.52 198.16 201.41 204.64" y="45.77" font-size="5.61" fill="#000" stroke="none">0.775</text>
<text x="193.2 196.41 198.07 201.31 204.56" y="29.14" font-size="5.61" fill="#000" stroke="none">0.800</text>
<text x="191.46 196.82 201.31 206.03 210.99 213.93 216.15 223.35 228.09 233.12 233.12 238.25" y="175.6" font-size="8.36" fill="#000">Experiment 1</text>
<text x="250.31 255.67 260.16 264.88 269.83 272.78 275 282.19 286.94 291.96 291.96 297.04" y="175.6" font-size="8.36" fill="#000">Experiment 2</text>
<text x="309.05 314.41 318.9 323.62 328.58 331.52 333.74 340.94 345.68 350.71 350.71 355.9" y="175.6" font-size="8.36" fill="#000">Experiment 3</text>
<text transform="translate(189.57,93.9) rotate(-90)" x="-1.61" y="0" font-size="8.42" fill="#000">r</text>
<text x="378.55 381.76 383.43 386.64" y="163.29" font-size="5.61" fill="#000" stroke="none">0.35</text>
<text x="378.44 381.66 383.31 386.56" y="136.16" font-size="5.61" fill="#000" stroke="none">0.40</text>
<text x="378.55 381.76 383.42 386.64" y="109.03" font-size="5.61" fill="#000" stroke="none">0.45</text>
<text x="378.44 381.66 383.29 386.56" y="81.9" font-size="5.61" fill="#000" stroke="none">0.50</text>
<text x="378.55 381.76 383.4 386.64" y="54.77" font-size="5.61" fill="#000" stroke="none">0.55</text>
<text x="378.44 381.66 383.31 386.56" y="27.64" font-size="5.61" fill="#000" stroke="none">0.60</text>
<text x="373.47 378.84 383.32 388.04 393 395.95 398.17 405.36 410.11 415.13 415.13 420.26" y="175.6" font-size="8.36" fill="#000">Experiment 1</text>
<text x="432.46 437.82 442.31 447.03 451.98 454.93 457.15 464.34 469.09 474.11 474.11 479.19" y="175.6" font-size="8.36" fill="#000">Experiment 2</text>
<text x="491.33 496.7 501.18 505.91 510.86 513.81 516.03 523.22 527.97 532.99 532.99 538.18" y="175.6" font-size="8.36" fill="#000">Experiment 3</text>
<text transform="translate(374.82,94.5) rotate(-90)" x="-8.02 -2.45 2.32" y="0" font-size="8.42" fill="#000">NSE</text>
<text x="18.18 21.47 24.7 26.36" y="333.34" font-size="5.61" fill="#000" stroke="none">25.0</text>
<text x="18.28 21.59 24.81 26.44" y="314.18" font-size="5.61" fill="#000" stroke="none">27.5</text>
<text x="18.25 21.49 24.7 26.36" y="295.01" font-size="5.61" fill="#000" stroke="none">30.0</text>
<text x="18.36 21.53 24.81 26.44" y="275.84" font-size="5.61" fill="#000" stroke="none">32.5</text>
<text x="18.25 21.47 24.7 26.36" y="256.68" font-size="5.61" fill="#000" stroke="none">35.0</text>
<text x="18.36 21.59 24.81 26.44" y="237.51" font-size="5.61" fill="#000" stroke="none">37.5</text>
<text x="18.24 21.49 24.7 26.36" y="218.34" font-size="5.61" fill="#000" stroke="none">40.0</text>
<text x="13.2 18.57 23.05 27.78 32.73 35.68 37.9 45.09 49.84 54.86 54.86 60" y="355.5" font-size="8.36" fill="#000">Experiment 1</text>
<text x="71.51 76.87 81.36 86.08 91.03 93.98 96.2 103.39 108.14 113.16 113.16 118.24" y="355.5" font-size="8.36" fill="#000">Experiment 2</text>
<text x="129.7 135.07 139.55 144.28 149.23 152.18 154.4 161.59 166.34 171.36 171.36 176.55" y="355.5" font-size="8.36" fill="#000">Experiment 3</text>
<text transform="translate(14.53,273.3) rotate(-90)" x="-36.47 -31.09 -24.63 -19.86 -19.86 -12.29 -8.94 -1.49 5.84 8.54 15.75 20.53 25.59 28.37 33.43" y="0" font-size="8.42" fill="#000">RMSE (mm/month)</text>
<text x="195.6 198.81 200.46 203.71 206.96" y="348.64" font-size="5.61" fill="#000" stroke="none">0.700</text>
<text x="195.71 198.92 200.56 203.75 207.04" y="332.1" font-size="5.61" fill="#000" stroke="none">0.725</text>
<text x="195.6 198.81 200.46 203.69 206.96" y="315.56" font-size="5.61" fill="#000" stroke="none">0.750</text>
<text x="195.71 198.92 200.56 203.81 207.04" y="299.01" font-size="5.61" fill="#000" stroke="none">0.775</text>
<text x="195.6 198.81 200.47 203.71 206.96" y="282.47" font-size="5.61" fill="#000" stroke="none">0.800</text>
<text x="195.71 198.92 200.57 203.75 207.04" y="265.93" font-size="5.61" fill="#000" stroke="none">0.825</text>
<text x="195.6 198.81 200.47 203.69 206.96" y="249.38" font-size="5.61" fill="#000" stroke="none">0.850</text>
<text x="195.71 198.92 200.57 203.81 207.04" y="232.84" font-size="5.61" fill="#000" stroke="none">0.875</text>
<text x="195.6 198.81 200.45 203.71 206.96" y="216.29" font-size="5.61" fill="#000" stroke="none">0.900</text>
<text x="193.82 199.18 203.67 208.39 213.34 216.29 218.51 225.71 230.45 235.48 235.48 240.61" y="355.5" font-size="8.36" fill="#000">Experiment 1</text>
<text x="252.26 257.62 262.11 266.83 271.78 274.73 276.95 284.14 288.89 293.91 293.91 298.99" y="355.5" font-size="8.36" fill="#000">Experiment 2</text>
<text x="310.59 315.95 320.44 325.16 330.12 333.06 335.28 342.48 347.22 352.25 352.25 357.44" y="355.5" font-size="8.36" fill="#000">Experiment 3</text>
<text transform="translate(192.77,273.8) rotate(-90)" x="-1.61" y="0" font-size="8.42" fill="#000">r</text>
<text x="379.75 382.96 384.62 387.84" y="348.64" font-size="5.61" fill="#000" stroke="none">0.45</text>
<text x="379.64 382.86 384.49 387.76" y="329.47" font-size="5.61" fill="#000" stroke="none">0.50</text>
<text x="379.75 382.96 384.6 387.84" y="310.3" font-size="5.61" fill="#000" stroke="none">0.55</text>
<text x="379.64 382.86 384.51 387.76" y="291.13" font-size="5.61" fill="#000" stroke="none">0.60</text>
<text x="379.75 382.96 384.62 387.84" y="271.96" font-size="5.61" fill="#000" stroke="none">0.65</text>
<text x="379.64 382.86 384.5 387.76" y="252.79" font-size="5.61" fill="#000" stroke="none">0.70</text>
<text x="379.75 382.96 384.61 387.84" y="233.62" font-size="5.61" fill="#000" stroke="none">0.75</text>
<text x="379.64 382.86 384.51 387.76" y="214.44" font-size="5.61" fill="#000" stroke="none">0.80</text>
<text x="374.59 379.96 384.44 389.17 394.12 397.07 399.29 406.48 411.23 416.25 416.25 421.39" y="355.5" font-size="8.36" fill="#000">Experiment 1</text>
<text x="432.81 438.17 442.66 447.38 452.33 455.28 457.5 464.69 469.44 474.46 474.46 479.54" y="355.5" font-size="8.36" fill="#000">Experiment 2</text>
<text x="490.91 496.28 500.76 505.48 510.44 513.39 515.61 522.8 527.55 532.57 532.57 537.76" y="355.5" font-size="8.36" fill="#000">Experiment 3</text>
<text transform="translate(376.82,274.4) rotate(-90)" x="-8.02 -2.45 2.32" y="0" font-size="8.42" fill="#000">NSE</text>
<text x="18.22 21.48 24.71 26.34" y="525.74" font-size="5.61" fill="#000" stroke="none">15.5</text>
<text x="18.11 21.39 24.6 26.26" y="508.08" font-size="5.61" fill="#000" stroke="none">16.0</text>
<text x="18.22 21.5 24.71 26.34" y="490.42" font-size="5.61" fill="#000" stroke="none">16.5</text>
<text x="18.11 21.38 24.6 26.26" y="472.76" font-size="5.61" fill="#000" stroke="none">17.0</text>
<text x="18.22 21.49 24.71 26.34" y="455.09" font-size="5.61" fill="#000" stroke="none">17.5</text>
<text x="18.11 21.39 24.6 26.26" y="437.43" font-size="5.61" fill="#000" stroke="none">18.0</text>
<text x="18.22 21.5 24.71 26.34" y="419.77" font-size="5.61" fill="#000" stroke="none">18.5</text>
<text x="18.11 21.37 24.6 26.26" y="402.11" font-size="5.61" fill="#000" stroke="none">19.0</text>
<text x="18.22 21.48 24.71 26.34" y="384.44" font-size="5.61" fill="#000" stroke="none">19.5</text>
<text x="13.19 18.55 23.04 27.76 32.72 35.67 37.89 45.08 49.82 54.85 54.85 59.98" y="536.3" font-size="8.36" fill="#000">Experiment 1</text>
<text x="72.36 77.72 82.21 86.93 91.88 94.83 97.05 104.24 108.99 114.01 114.01 119.09" y="536.3" font-size="8.36" fill="#000">Experiment 2</text>
<text x="131.42 136.78 141.27 145.99 150.94 153.89 156.11 163.3 168.05 173.08 173.08 178.27" y="536.3" font-size="8.36" fill="#000">Experiment 3</text>
<text transform="translate(14.74,454.4) rotate(-90)" x="-36.47 -31.09 -24.63 -19.86 -19.86 -12.29 -8.94 -1.49 5.84 8.54 15.75 20.53 25.59 28.37 33.43" y="0" font-size="8.42" fill="#000">RMSE (mm/month)</text>
<text x="60.05 63.75 68.35 72.71" y="467.15" font-size="7.81" fill="#000">LSTM</text>
<text x="60.02 64.66 69.51" y="477.55" font-size="7.81" fill="#000">SVM</text>
<text x="60.12 65.55 69.94" y="487.95" font-size="7.81" fill="#000">GPR</text>
<text x="60.05 63.81" y="498.35" font-size="7.81" fill="#000">LR</text>
<text x="60.4 65.17 70.77" y="508.75" font-size="7.81" fill="#000">XGB</text>
<text x="60.05 63.78 69.37 74.24" y="519.15" font-size="7.81" fill="#000">LGBM</text>
<text x="197.85 201.06 202.72 205.94" y="528.24" font-size="5.61" fill="#000" stroke="none">0.85</text>
<text x="197.73 200.94 202.59 205.84" y="507.62" font-size="5.61" fill="#000" stroke="none">0.86</text>
<text x="197.84 201.05 202.71 205.94" y="486.99" font-size="5.61" fill="#000" stroke="none">0.87</text>
<text x="197.75 200.97 202.62 205.86" y="466.36" font-size="5.61" fill="#000" stroke="none">0.88</text>
<text x="197.76 200.98 202.63 205.86" y="445.73" font-size="5.61" fill="#000" stroke="none">0.89</text>
<text x="197.74 200.96 202.59 205.86" y="425.1" font-size="5.61" fill="#000" stroke="none">0.90</text>
<text x="197.88 201.09 202.73 205.96" y="404.47" font-size="5.61" fill="#000" stroke="none">0.91</text>
<text x="197.92 201.13 202.77 205.96" y="383.84" font-size="5.61" fill="#000" stroke="none">0.92</text>
<text x="192.8 198.17 202.65 207.38 212.33 215.28 217.5 224.69 229.44 234.46 234.46 239.6" y="536.3" font-size="8.36" fill="#000">Experiment 1</text>
<text x="252.11 257.47 261.96 266.68 271.63 274.58 276.8 283.99 288.74 293.76 293.76 298.84" y="536.3" font-size="8.36" fill="#000">Experiment 2</text>
<text x="311.3 316.67 321.15 325.88 330.83 333.78 336 343.19 347.94 352.96 352.96 358.15" y="536.3" font-size="8.36" fill="#000">Experiment 3</text>
<text transform="translate(195.1,454.9) rotate(-90)" x="-1.61" y="0" font-size="8.42" fill="#000">r</text>
<text x="377.42 380.63 382.27 385.46" y="529.14" font-size="5.61" fill="#000" stroke="none">0.72</text>
<text x="377.19 380.4 382.05 385.3" y="502.8" font-size="5.61" fill="#000" stroke="none">0.74</text>
<text x="377.23 380.44 382.08 385.34" y="476.46" font-size="5.61" fill="#000" stroke="none">0.76</text>
<text x="377.25 380.47 382.11 385.36" y="450.12" font-size="5.61" fill="#000" stroke="none">0.78</text>
<text x="377.24 380.46 382.11 385.36" y="423.78" font-size="5.61" fill="#000" stroke="none">0.80</text>
<text x="377.42 380.63 382.28 385.46" y="397.44" font-size="5.61" fill="#000" stroke="none">0.82</text>
<text x="372.31 377.68 382.16 386.89 391.84 394.79 397.01 404.2 408.95 413.97 413.97 419.11" y="536.3" font-size="8.36" fill="#000">Experiment 1</text>
<text x="431.71 437.07 441.56 446.28 451.23 454.18 456.4 463.59 468.34 473.36 473.36 478.44" y="536.3" font-size="8.36" fill="#000">Experiment 2</text>
<text x="490.99 496.36 500.84 505.57 510.52 513.47 515.69 522.88 527.63 532.65 532.65 537.84" y="536.3" font-size="8.36" fill="#000">Experiment 3</text>
<text transform="translate(374.27,455.5) rotate(-90)" x="-8.02 -2.45 2.32" y="0" font-size="8.42" fill="#000">NSE</text>
</g>
</svg></body></html>
